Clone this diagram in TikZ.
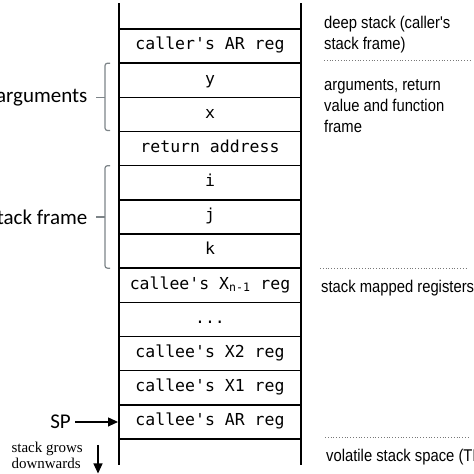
\documentclass[tikz,border=0pt]{standalone}
\usepackage{fontspec}
\setmainfont{Liberation Serif}
\newfontfamily\monof{DejaVu Sans Mono}
\newfontfamily\narrowf[FakeStretch=0.87]{Liberation Sans}
\newfontfamily\calf{Carlito}
\usetikzlibrary{arrows.meta,positioning}
\definecolor{brgray}{RGB}{125,132,136}
\definecolor{dotgray}{RGB}{120,120,120}
\tikzset{
  cell/.style={draw, line width=1.5pt, minimum width=182pt, minimum height=34.17pt,
    inner sep=0pt, outer sep=0pt, font=\monof\fontsize{16.5}{18}\selectfont,
    text height=11pt, text depth=3.5pt},
  wall/.style={line width=1.5pt},
  brc/.style={brgray, line width=1.2pt, rounded corners=2.5pt},
  lbl/.style={font=\calf\fontsize{21}{24}\selectfont, inner sep=0pt, text=black},
  note/.style={font=\narrowf\fontsize{17}{21}\selectfont, align=left, anchor=west, inner sep=0pt},
  sepl/.style={dotted, dotgray, line width=0.8pt},
  parr/.style={-{Triangle[length=10pt,width=9pt]}, line width=1.2pt},
  grw/.style={font=\fontsize{15}{16}\selectfont, align=left, inner sep=0pt},
}

\begin{document}
\begin{tikzpicture}[x=1pt,y=1pt]
\useasboundingbox (0,0) rectangle (474,474);
\node[cell] (car) at (210,427.9) {caller's AR reg};
\node[cell, below=0pt of car] (y) {y};
\node[cell, below=0pt of y] (x) {x};
\node[cell, below=0pt of x] (ret) {return address};
\node[cell, below=0pt of ret] (i) {i};
\node[cell, below=0pt of i] (j) {j};
\node[cell, below=0pt of j] (k) {k};
\node[cell, below=0pt of k] (xn) {callee's X\textsubscript{n-1} reg};
\node[cell, below=0pt of xn] (dots) {...};
\node[cell, below=0pt of dots] (xtwo) {callee's X2 reg};
\node[cell, below=0pt of xtwo] (xone) {callee's X1 reg};
\node[cell, below=0pt of xone] (ear) {callee's AR reg};
\draw[wall] ([yshift=26pt]car.north west) -- ([yshift=-26pt]ear.south west);
\draw[wall] ([yshift=26pt]car.north east) -- ([yshift=-26pt]ear.south east);

\draw[brc] ([xshift=-9pt]y.north west) -- ([xshift=-14pt]y.north west)
  -- ([xshift=-14pt,yshift=1pt]x.south west) -- ([xshift=-9pt,yshift=1pt]x.south west);
\draw[brc] ([xshift=-14pt]y.south west) -- ([xshift=-23pt]y.south west)
  node[left=8pt, lbl] (argl) {arguments};
\draw[brc] ([xshift=-9pt]i.north west) -- ([xshift=-14pt]i.north west)
  -- ([xshift=-14pt]k.south west) -- ([xshift=-9pt]k.south west);
\draw[brc] ([xshift=-14pt]j.west) -- ([xshift=-23pt]j.west)
  node[left=8pt, lbl] (sfl) {stack frame};

\node[lbl, inner sep=4pt, left=44pt of ear.west] (sp) {SP};
\draw[parr, shorten >=1pt] (sp) -- (ear.west);
\node[grw, anchor=east] (grow) at (83,19) {stack grows\\downwards};
\coordinate (gtop) at (98,29);
\coordinate (gbot) at (98,0.5);
\draw[parr] (gtop) -- (gbot);

\node[note] (deep) at (324,439) {deep stack (caller's\\stack frame)};
\draw[sepl] (324,414) -- (470,414);
\node[note] (argn) at (324,367.5) {arguments, return\\value and function\\frame};
\draw[sepl] (320,206) -- (467,206);
\node[note] (smap) at (321,186) {stack mapped registers};
\draw[sepl] (325,37) -- (470,37);
\node[note] (vol) at (326,17) {volatile stack space (TI};
\end{tikzpicture}
\end{document}
